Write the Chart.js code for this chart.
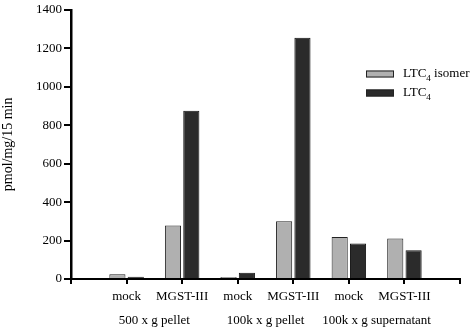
<!DOCTYPE html>
<html>
<head>
<meta charset="utf-8">
<script src="https://cdn.jsdelivr.net/npm/chart.js@4"></script>
<style>body{margin:0;background:#fff}</style>
</head>
<body>
<canvas id="chart" width="474" height="332"></canvas>
<script>
// data
const categories = ['', 'mock', 'MGST-III', 'mock', 'MGST-III', 'mock', 'MGST-III', ''];
const groups = ['500 x g pellet', '100k x g pellet', '100k x g supernatant'];
const isomerValues = [null, 25, 278, 10, 300, 218, 210, null];
const ltc4Values = [null, 12, 875, 33, 1255, 185, 150, null];
const yMax = 1400;
const yStep = 200;

const FONT = '"Liberation Serif", "DejaVu Serif", serif';
const INK = '#000';

// group labels under the x axis + legend with subscripts
const extras = {
    id: 'extras',
    afterDraw(chart) {
        const ctx = chart.ctx;
        const x = chart.scales.x;
        ctx.save();
        ctx.fillStyle = INK;
        ctx.font = '13px ' + FONT;
        ctx.textAlign = 'center';
        ctx.textBaseline = 'middle';
        groups.forEach((g, i) => {
            let mid = (x.getPixelForValue(1 + i * 2) + x.getPixelForValue(2 + i * 2)) / 2;
            ctx.fillText(g, mid, 321);
        });

        // legend
        const items = [
            { fill: '#b0b0b0', text: 'LTC', sub: '4', rest: ' isomer' },
            { fill: '#2b2b2b', text: 'LTC', sub: '4', rest: '' }
        ];
        ctx.textAlign = 'left';
        items.forEach((it, i) => {
            let y = 74 + i * 19;
            ctx.fillStyle = it.fill;
            ctx.fillRect(366, y - 3.5, 28, 7);
            ctx.strokeStyle = '#222';
            ctx.lineWidth = 1;
            ctx.strokeRect(366.5, y - 3, 27, 6);
            ctx.fillStyle = INK;
            ctx.font = '13px ' + FONT;
            let tx = 403;
            ctx.fillText(it.text, tx, y);
            tx += ctx.measureText(it.text).width;
            ctx.font = '9px ' + FONT;
            ctx.fillText(it.sub, tx, y + 5);
            tx += ctx.measureText(it.sub).width;
            ctx.font = '13px ' + FONT;
            ctx.fillText(it.rest, tx, y);
        });
        ctx.restore();
    }
};

new Chart(document.getElementById('chart'), {
    type: 'bar',
    data: {
        labels: categories,
        datasets: [{
            label: 'LTC₄ isomer',
            data: isomerValues,
            backgroundColor: '#b0b0b0',
            borderColor: '#222',
            borderWidth: 1,
            categoryPercentage: 0.66,
            barPercentage: 0.88
        }, {
            label: 'LTC₄',
            data: ltc4Values,
            backgroundColor: '#2b2b2b',
            borderColor: '#111',
            borderWidth: 1,
            categoryPercentage: 0.66,
            barPercentage: 0.88
        }]
    },
    options: {
        responsive: false,
        animation: false,
        layout: { padding: { top: 7, right: 14, left: 0, bottom: 0 } },
        plugins: {
            legend: { display: false },
            tooltip: { enabled: false }
        },
        scales: {
            x: {
                offset: false,
                grid: { offset: false, drawOnChartArea: false, drawTicks: true, color: INK, tickColor: INK, tickLength: 5, lineWidth: 2 },
                border: { color: INK, width: 2 },
                ticks: { color: INK, font: { family: FONT, size: 13 }, padding: 5, maxRotation: 0, autoSkip: false },
                afterFit(scale) { scale.height = 53; }
            },
            y: {
                min: 0,
                max: yMax,
                grid: { drawOnChartArea: false, drawTicks: true, color: INK, tickColor: INK, tickLength: 7, lineWidth: 2 },
                border: { color: INK, width: 2.5 },
                ticks: {
                    stepSize: yStep, color: INK, font: { family: FONT, size: 13 }, padding: 2,
                    callback: v => String(v)
                },
                title: { display: true, text: 'pmol/mg/15 min', color: INK, font: { family: FONT, size: 14 }, padding: 0 },
                afterFit(scale) { scale.width = 71; }
            }
        }
    },
    plugins: [extras]
});
</script>
</body>
</html>
